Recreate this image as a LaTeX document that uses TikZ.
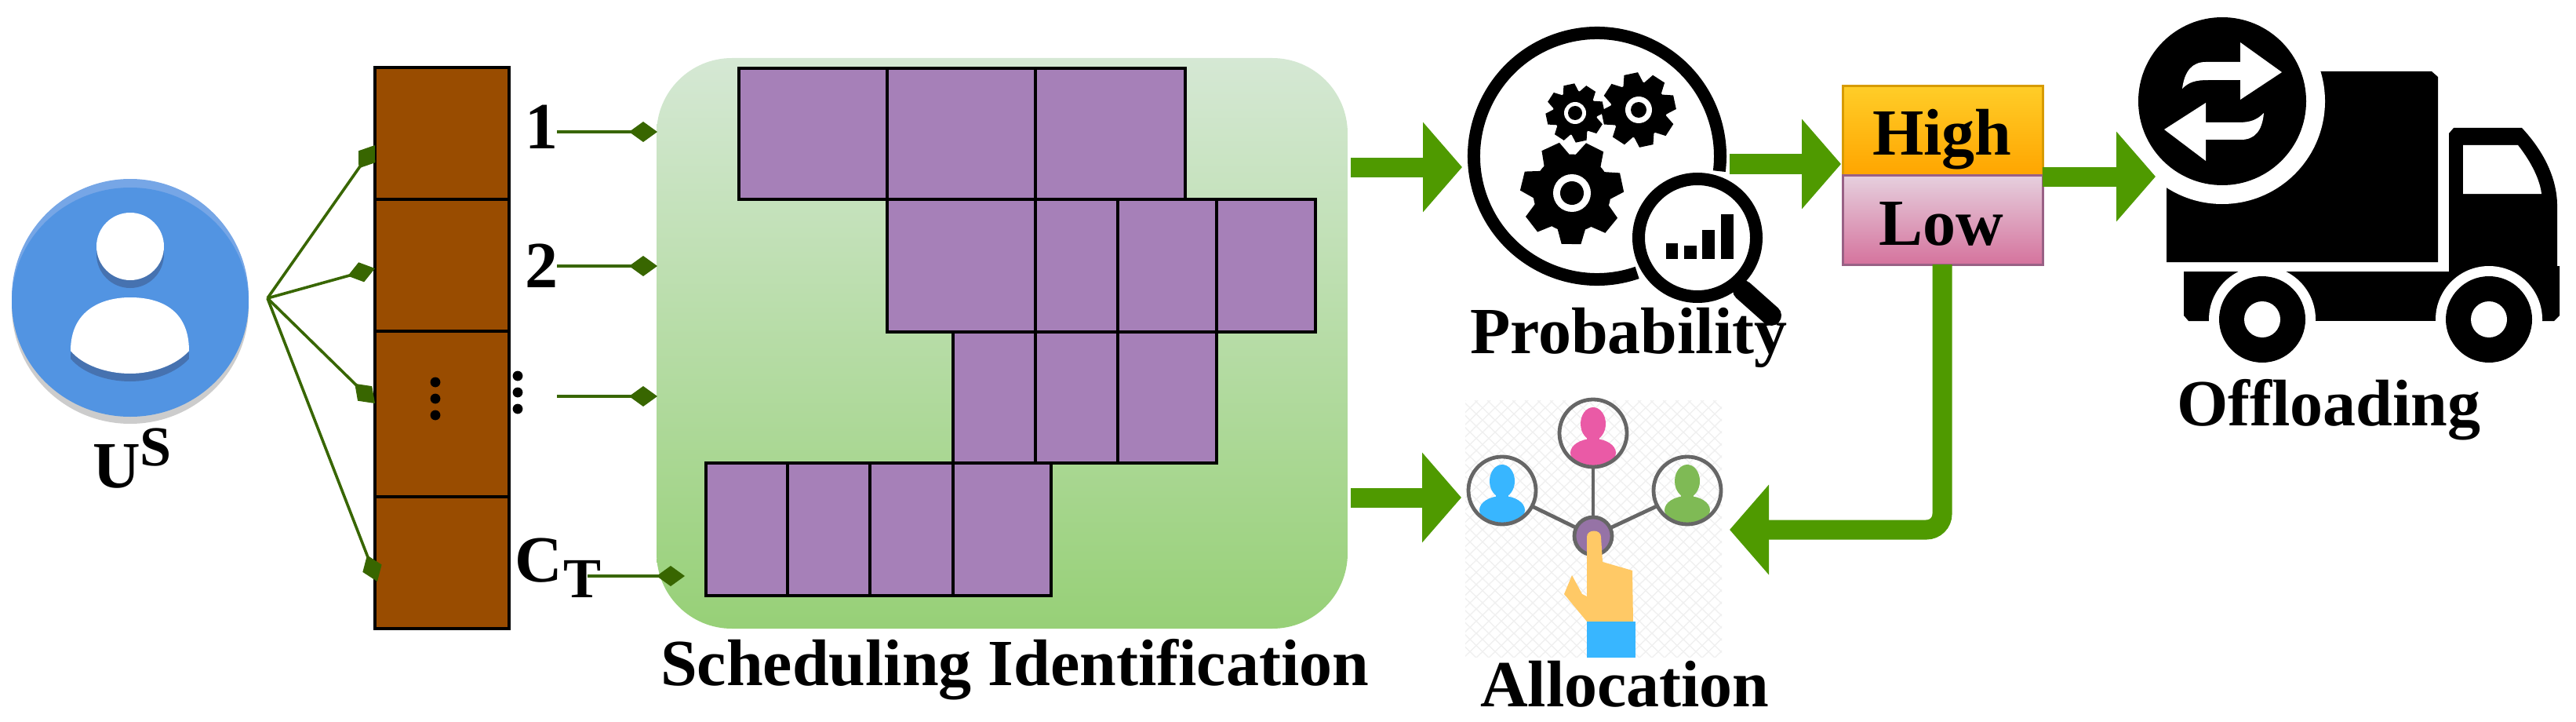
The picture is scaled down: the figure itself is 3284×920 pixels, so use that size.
\documentclass[tikz,border=0pt]{standalone}
\usepackage{fontspec}
\setmainfont{Liberation Serif}
\usetikzlibrary{arrows.meta,calc}
\definecolor{linegreen}{HTML}{386600}
\definecolor{arrowgreen}{HTML}{4F9A00}
\definecolor{brownbar}{HTML}{994C00}
\definecolor{cellpurple}{HTML}{A680B8}
\definecolor{userblue}{HTML}{5294E2}
\definecolor{userlight}{HTML}{76A6E6}
\definecolor{usershade}{HTML}{4672B0}
\definecolor{ringgray}{HTML}{666666}
\definecolor{iconpink}{HTML}{EA5AA6}
\definecolor{iconblue}{HTML}{38B6FF}
\definecolor{icongreen}{HTML}{7FBA55}
\definecolor{iconhand}{HTML}{FFC966}
\definecolor{iconhub}{HTML}{9673A6}
\newcommand{\boxnode}[6]{%
  \pgfmathsetmacro{\bw}{(#4-#2)*0.5}\pgfmathsetmacro{\bh}{(#5-#3)*0.5}%
  \pgfmathsetmacro{\bx}{(#2+#4)/2}\pgfmathsetmacro{\by}{(#3+#5)/2}%
  \node[#6,minimum width=\bw pt,minimum height=\bh pt] (#1) at (\bx,\by) {};}
\newcommand{\gearicon}[6]{% x y R teeth ringR holeR
  \begin{scope}[shift={(#1,#2)}]
    \fill[black] (0,0) circle[radius=0.76*#3];
    \pgfmathsetmacro{\gstep}{360/#4}
    \foreach \k in {1,...,#4}{
      \pgfmathsetmacro{\ga}{\k*\gstep+12}
      \fill[black,rotate=\ga] (0.68*#3,-0.28*#3) -- (#3,-0.19*#3) -- (#3,0.19*#3) -- (0.68*#3,0.28*#3) -- cycle;
    }
    \fill[white] (0,0) circle[radius=#5];
    \fill[black] (0,0) circle[radius=#6];
  \end{scope}}
\newcommand{\personicon}[3]{% x y colour
  \begin{scope}
    \clip (#1,#2) circle[radius=41];
    \fill[#3] (#1,#2-12) ellipse[x radius=16,y radius=21];
    \fill[#3] (#1-8,#2) rectangle (#1+8,#2+15);
    \fill[#3] (#1,#2+25) ellipse[x radius=29,y radius=18];
  \end{scope}}
\tikzset{
  cellbox/.style={draw=black,line width=1.8pt,fill=cellpurple,inner sep=0pt,outer sep=0pt},
  barbox/.style={draw=black,line width=1.8pt,fill=brownbar,inner sep=0pt,outer sep=0pt},
  fanline/.style={draw=linegreen,line width=1.8pt,-{Diamond[length=18pt,width=13pt,fill=linegreen]}},
  bigarrow/.style={draw=arrowgreen,line width=12.5pt,-{Triangle[length=25pt,width=56pt,fill=arrowgreen]}},
  txt/.style={font=\bfseries\fontsize{42}{42}\selectfont,inner sep=0pt,outer sep=0pt,anchor=base west},
  subtxt/.style={font=\bfseries\fontsize{36}{36}\selectfont,inner sep=0pt,outer sep=0pt,anchor=base west},
  spot/.style={fill=black,circle,inner sep=0pt,minimum size=6.4pt}
}
\begin{document}
\begin{tikzpicture}[x=0.5pt,y=-0.5pt]
\useasboundingbox (0,0) rectangle (3284,920);
% user
\fill[gray!40] (166,391) ellipse[x radius=151,y radius=149];
\fill[userlight] (166,379) ellipse[x radius=151,y radius=151];
\fill[userblue] (166,385) ellipse[x radius=151,y radius=146];
\fill[usershade] (166,324) circle[radius=43];
\fill[white] (166,314) circle[radius=43];
\fill[usershade] (90,457) .. controls (90,405) and (130,389) .. (166,389) .. controls (205,389) and (241,405) .. (241,457) .. controls (225,475) and (195,486) .. (166,486) .. controls (135,486) and (105,475) .. (90,457) -- cycle;
\fill[white] (90,447) .. controls (90,395) and (130,379) .. (166,379) .. controls (205,379) and (241,395) .. (241,447) .. controls (225,465) and (195,476) .. (166,476) .. controls (135,476) and (105,465) .. (90,447) -- cycle;
\node[txt] (usertxt) at (118,621) {U};
\node[subtxt] (usersup) at (178,593) {S};
% bar
\boxnode{b1}{478}{86}{649}{254}{barbox}
\boxnode{b2}{478}{254}{649}{422}{barbox}
\boxnode{b3}{478}{422}{649}{633}{barbox}
\boxnode{b4}{478}{633}{649}{801}{barbox}
\coordinate (fan) at (341,380);
\coordinate (t1) at (478,185);
\coordinate (t2) at (478,342);
\coordinate (t3) at (478,514);
\coordinate (t4) at (481,741);
\draw[fanline] (fan) -- (t1);
\draw[fanline] (fan) -- (t2);
\draw[fanline] (fan) -- (t3);
\draw[fanline] (fan) -- (t4);
\node[spot] (d1) at (555,487) {};
\node[spot] (d2) at (555,508) {};
\node[spot] (d3) at (555,529) {};
\node[spot] (e1) at (660,479) {};
\node[spot] (e2) at (660,500) {};
\node[spot] (e3) at (660,521) {};
\node[txt] (n1) at (669,190) {1};
\node[txt] (n2) at (669,366) {2};
\node[txt] (ct) at (656,741) {C};
\node[subtxt] (ctsub) at (718,761) {T};
% panel
\boxnode{panel}{837}{74}{1718}{801}{rounded corners=48pt,top color={rgb,255:red,213;green,232;blue,212},bottom color={rgb,255:red,151;green,208;blue,119},inner sep=0pt,outer sep=0pt}
% cells
\boxnode{a1}{942}{87}{1131}{254}{cellbox}
\boxnode{a2}{1131}{87}{1320}{254}{cellbox}
\boxnode{a3}{1320}{87}{1511}{254}{cellbox}
\boxnode{c1}{1131}{254}{1320}{423}{cellbox}
\boxnode{c2}{1320}{254}{1425}{423}{cellbox}
\boxnode{c3}{1425}{254}{1551}{423}{cellbox}
\boxnode{c4}{1551}{254}{1677}{423}{cellbox}
\boxnode{e1b}{1215}{423}{1320}{590}{cellbox}
\boxnode{e2b}{1320}{423}{1425}{590}{cellbox}
\boxnode{e3b}{1425}{423}{1551}{590}{cellbox}
\boxnode{f1}{900}{590}{1004}{759}{cellbox}
\boxnode{f2}{1004}{590}{1109}{759}{cellbox}
\boxnode{f3}{1109}{590}{1215}{759}{cellbox}
\boxnode{f4}{1215}{590}{1340}{759}{cellbox}
\node[txt] (sched) at (842,873) {Scheduling Identification};
% short connectors
\coordinate (s1) at (710,168); \coordinate (r1) at (838,168);
\coordinate (s2) at (710,339); \coordinate (r2) at (838,339);
\coordinate (s3) at (710,505); \coordinate (r3) at (838,505);
\coordinate (s4) at (749,734); \coordinate (r4) at (873,734);
\draw[fanline] (s1) -- (r1);
\draw[fanline] (s2) -- (r2);
\draw[fanline] (s3) -- (r3);
\draw[fanline] (s4) -- (r4);
% probability icon
\draw[black,line width=8pt] ([shift={(71:157)}]2036,199) arc[start angle=71,end angle=367,radius=157];
\gearicon{2004}{246}{65}{7}{24}{15}
\gearicon{2008}{144}{37}{8}{14}{9}
\gearicon{2089}{140}{47}{8}{17}{10}
\draw[black,line width=8pt] (2164,303) circle[radius=75];
\draw[black,line width=13pt,line cap=round] (2222,370) -- (2258,402);
\fill[black] (2124,310) rectangle (2139,330);
\fill[black] (2147,313) rectangle (2163,330);
\fill[black] (2170,293) rectangle (2186,330);
\fill[black] (2194,273) rectangle (2210,330);
\node[txt] (prob) at (1874,450) {Probability};
% high low
\boxnode{high}{2349}{110}{2604}{223}{draw={rgb,255:red,215;green,155;blue,0},line width=1.5pt,top color={rgb,255:red,255;green,205;blue,40},bottom color={rgb,255:red,255;green,165;blue,0},inner sep=0pt,outer sep=0pt}
\boxnode{low}{2349}{223}{2604}{337}{draw={rgb,255:red,153;green,97;blue,133},line width=1.5pt,top color={rgb,255:red,230;green,208;blue,222},bottom color={rgb,255:red,213;green,115;blue,157},inner sep=0pt,outer sep=0pt}
\node[txt] (hightxt) at (2387,198) {High};
\node[txt] (lowtxt) at (2395,312) {Low};
% allocation icon
\begin{scope}
  \clip (1868,510) rectangle (2195,837);
  \foreach \q in {0,16,...,700}{
    \draw[gray!12,line width=0.7pt] (1868+\q-340,510) -- (1868+\q,840);
    \draw[gray!12,line width=0.7pt] (1868+\q,510) -- (1868+\q-340,840);
  }
\end{scope}
\coordinate (hub) at (2031,683);
\draw[ringgray,line width=2.4pt] (hub) -- (2031,595);
\draw[ringgray,line width=2.4pt] (hub) -- (1953,645);
\draw[ringgray,line width=2.4pt] (hub) -- (2112,645);
\personicon{2031}{552}{iconpink}
\personicon{1915}{625}{iconblue}
\personicon{2151}{625}{icongreen}
\draw[ringgray,line width=2.4pt] (2031,552) circle[radius=43];
\draw[ringgray,line width=2.4pt] (1915,625) circle[radius=43];
\draw[ringgray,line width=2.4pt] (2151,625) circle[radius=43];
\draw[ringgray,line width=2.4pt,fill=iconhub] (hub) circle[radius=24];
\fill[iconhand] (2023,684) .. controls (2023,674) and (2041,674) .. (2041,684) -- (2043,716) -- (2081,727) -- (2082,792) -- (2023,792) -- (1994,757) -- (2004,733) -- (2017,757) -- (2023,760) -- cycle;
\fill[iconblue] (2023,792) rectangle (2085,838);
\node[txt] (alloc) at (1887,900) {Allocation};
% truck
\fill[black] (2762,91) -- (3100,91) -- (3108,98) -- (3108,334) -- (2762,334) -- cycle;
\fill[white] (2833,129) circle[radius=131];
\fill[black] (2833,129) circle[radius=107];
\fill[white] (2782,113) .. controls (2785,90) and (2795,79) .. (2812,79) -- (2856,79) -- (2856,54) -- (2909,92) -- (2856,127) -- (2856,102) -- (2815,102) .. controls (2798,102) and (2790,105) .. (2782,113) -- cycle;
\fill[white] (2886,144) .. controls (2884,167) and (2874,178) .. (2857,178) -- (2812,178) -- (2812,205) -- (2759,165) -- (2812,131) -- (2812,156) -- (2854,156) .. controls (2870,156) and (2878,152) .. (2886,144) -- cycle;
\fill[black] (3122,346) -- (3122,170) -- (3128,163) -- (3215,163) .. controls (3245,195) and (3260,230) .. (3260,262) -- (3260,339) -- (3263,339) -- (3263,402) -- (3256,409) -- (2790,409) -- (2784,402) -- (2784,346) -- cycle;
\fill[white] (3140,185) -- (3210,185) .. controls (3228,208) and (3238,230) .. (3240,247) -- (3140,247) -- cycle;
\fill[white] (2884,407) circle[radius=68];
\fill[white] (3173,407) circle[radius=68];
\fill[white] (2816,409) rectangle (3240,425);
\fill[black] (2884,407) circle[radius=55];
\fill[black] (3173,407) circle[radius=55];
\fill[white] (2884,407) circle[radius=23];
\fill[white] (3173,407) circle[radius=23];
\node[txt] (off) at (2775,542) {Offloading};
% big arrows
\coordinate (p1) at (1722,213); \coordinate (g1) at (1864,213);
\coordinate (p2) at (1722,634); \coordinate (g2) at (1863,634);
\coordinate (g3) at (2205,209); \coordinate (hl) at (2347,209);
\coordinate (hr) at (2604,225); \coordinate (tk) at (2748,225);
\coordinate (lb) at (2476,337); \coordinate (lc) at (2476,675); \coordinate (al) at (2205,675);
\draw[bigarrow] (p1) -- (g1);
\draw[bigarrow] (p2) -- (g2);
\draw[bigarrow] (g3) -- (hl);
\draw[bigarrow] (hr) -- (tk);
\draw[bigarrow,rounded corners=10pt] (lb) -- (lc) -- (al);
\end{tikzpicture}
\end{document}
